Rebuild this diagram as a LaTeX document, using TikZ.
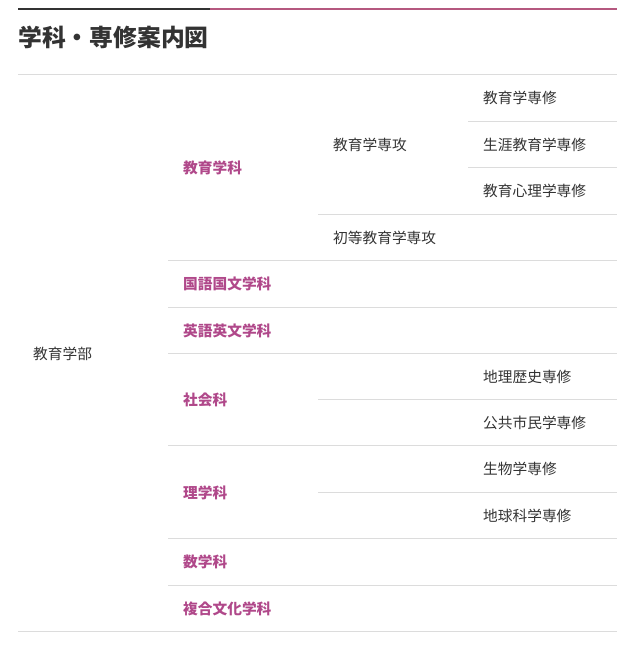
\documentclass[tikz,border=0pt]{standalone}
\usepackage{fontspec}
\setmainfont{Noto Sans CJK JP}
\usepackage{xcolor}
\definecolor{majorpink}{HTML}{B0488A}
\definecolor{barpink}{HTML}{B5587F}
\definecolor{rulegray}{HTML}{DCDCDC}
\definecolor{inkgray}{HTML}{333333}
\tikzset{
  cell/.style={ % plain entry of the chart
    anchor=west, inner sep=0pt, text=inkgray, yshift=-2.5pt,
    font=\fontsize{14.7}{16}\selectfont,
    text height=0.88em, text depth=0.12em
  },
  major/.style={ % department entry, coloured and bold
    cell, text=majorpink, font=\fontsize{14.7}{16}\selectfont\bfseries
  },
  sep/.style={draw=rulegray, line width=1pt}
}
\begin{document}
\begin{tikzpicture}[x=1pt, y=-1pt]
  \useasboundingbox (0,0) rectangle (634,645);

  % heading
  \draw[line width=1.2pt, inkgray] (18,9) -- (210,9);
  \draw[line width=1.2pt, barpink] (210,9) -- (617,9);
  \node[cell, text=inkgray, font=\fontsize{23.8}{26}\selectfont\bfseries] (title) at (18,40) {学科・専修案内図};

  % rules
  \foreach \y/\x in {74/18, 121/468, 167/468, 214/318, 260/168, 307/168,
                     353/168, 399/318, 445/168, 492/318, 538/168, 585/168, 631/18}
    \draw[sep] (\x,\y) -- (617,\y);

  % faculty
  \node[cell] (faculty) at (33,353) {教育学部};

  % departments
  \node[major] (kyoiku)  at (183,167) {教育学科};
  \node[major] (kokugo)  at (183,283) {国語国文学科};
  \node[major] (eigo)    at (183,330) {英語英文学科};
  \node[major] (shakai)  at (183,399) {社会科};
  \node[major] (rigaku)  at (183,492) {理学科};
  \node[major] (sugaku)  at (183,561) {数学科};
  \node[major] (fukugo)  at (183,608) {複合文化学科};

  % courses
  \node[cell] (kyoikuC) at (333,144) {教育学専攻};
  \node[cell] (shotoC)  at (333,237) {初等教育学専攻};

  % programmes
  \node[cell] (kyoikuP)  at (483,97)  {教育学専修};
  \node[cell] (shogaiP)  at (483,144) {生涯教育学専修};
  \node[cell] (shinriP)  at (483,190) {教育心理学専修};
  \node[cell] (chiriP)   at (483,376) {地理歴史専修};
  \node[cell] (koukyoP)  at (483,422) {公共市民学専修};
  \node[cell] (seibutsuP) at (483,468) {生物学専修};
  \node[cell] (chikyuP)  at (483,515) {地球科学専修};
\end{tikzpicture}
\end{document}
